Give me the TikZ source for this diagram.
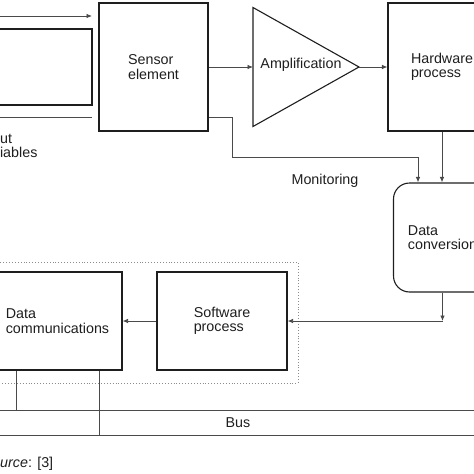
\documentclass[tikz,border=0pt]{standalone}
\usepackage{fontspec}
\setmainfont{Liberation Sans}
\usepackage{tikz}
\usetikzlibrary{arrows.meta,positioning,shapes.geometric,fit}
\definecolor{ink}{HTML}{1E1E1E}
\definecolor{wire}{HTML}{4A4A4A}
\definecolor{dots}{HTML}{8C8C8C}

\begin{document}
\begin{tikzpicture}[x=1pt,y=-1pt,
  every node/.style={font=\fontsize{14.3}{14.5}\selectfont,text=ink},
  box/.style={draw=ink,line width=1.1pt,align=left,inner sep=0pt},
  wireline/.style={draw=wire,line width=0.8pt},
  arr/.style={wireline,-{Latex[length=5.5pt,width=4.5pt]}},
  lbl/.style={align=left,inner sep=0pt}]
  \useasboundingbox (0,0) rectangle (474,474);
  \clip (0,0) rectangle (474,474);
  % upper chain: sensor -> amplifier -> hardware
  \node[box,minimum width=132,minimum height=76] (input) at (26,67) {};
  \node[box,minimum width=109,minimum height=128] (sensor) at (153.5,67) {Sensor\\element};
  \node[box,isosceles triangle,isosceles triangle stretches,shape border rotate=0,
        minimum width=119,minimum height=106,outer sep=0pt,anchor=lower side] (amp) at (253,67) {};
  \node[lbl] (amptxt) at (301,65) {Amplification};
  \node[box,minimum width=108,minimum height=128] (hw) at (442,67) {Hardware\\process};
  \node[box,rounded corners=16pt,minimum width=98,minimum height=109] (dconv) at (442.5,237.5) {Data\\conversion};
  \node[box,minimum width=130,minimum height=98] (soft) at (222,321) {Software\\process};
  \node[box,minimum width=129,minimum height=98] (dcom) at (57.5,321) {Data\\communications};
  \node[draw=dots,dotted,line width=0.9pt,inner sep=0pt,fit={(-15,262) (298,383)}] (host) {};
  \node[draw=wire,line width=0.8pt,minimum width=496,minimum height=25] (bus) at (238,422.5) {Bus};
  \node[lbl,anchor=west] (invar) at (-20,145.5) {Input\\variables};
  \node[lbl] (mon) at (325,181) {Monitoring};
  \node[lbl,anchor=west] (src) at (-17.5,464) {\textit{Source}: [3]};

  \coordinate (inA) at (-40,16);
  \coordinate (inB) at (92,16);
  \coordinate (outA) at (-40,117);
  \coordinate (outB) at (92,117);
  \coordinate (mtap) at (0,117);
  \coordinate (mbend) at (232,157);
  \coordinate (mdrop) at (418,0);

  \draw[arr] (inA) -- (inB);
  \draw[wireline] (outA) -- (outB);
  \draw[arr] (sensor.east) -- (amp.lower side);
  \draw[arr] (amp.apex) -- (hw.west);
  \draw[arr] (sensor.east |- mtap) -| (mbend) -| (dconv.north -| mdrop);
  \draw[arr] (hw.south) -- (hw.south |- dconv.north);
  \draw[arr] (dconv.south) -- (dconv.south |- soft.east);
  \draw[arr] (dconv.south |- soft.east) -- (soft.east);
  \draw[arr] (soft.west) -- (dcom.east);
  \foreach \x/\to in {16/north,99/south}{
    \draw[wireline] (dcom.south -| \x,0) -- (bus.\to -| \x,0);}
\end{tikzpicture}
\end{document}
